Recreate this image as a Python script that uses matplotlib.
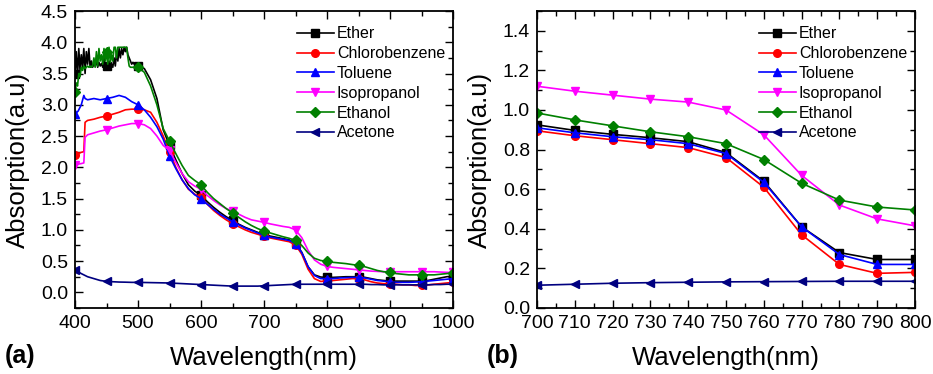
import numpy as np
import matplotlib
matplotlib.use("Agg")
import matplotlib.pyplot as plt
from matplotlib.ticker import MultipleLocator

plt.rcParams['font.family'] = ['Liberation Sans', 'DejaVu Sans']

# ---------------- data : panel (a) ----------------
series_names = ["Ether", "Chlorobenzene", "Toluene", "Isopropanol", "Ethanol", "Acetone"]
series_colors = ["#000000", "#ff0000", "#0000ff", "#ff00ff", "#008000", "#000080"]
series_markers = ["s", "o", "^", "v", "D", "<"]

wl_a_noisy_head = list(range(400, 501, 2))
wl_a_smooth_head = [400, 405, 410, 414, 416, 420, 430, 440, 450, 460, 470, 480, 490]
wl_a_tail = list(range(500, 1001, 10))

ether_head = [3.5, 3.85, 3.45, 3.9, 3.55, 3.8, 3.6, 3.9, 3.5, 3.85, 3.65, 3.9, 3.6, 3.7, 3.6,
              3.65, 3.62, 3.7, 3.6, 3.68, 3.62, 3.66, 3.6, 3.75, 3.6, 3.62, 3.58, 3.7, 3.62,
              3.65, 3.6, 3.75, 3.62, 3.85, 3.7, 3.9, 3.75, 3.9, 3.8, 3.92, 3.85, 3.92, 3.8,
              3.75, 3.7, 3.65, 3.68, 3.65, 3.64, 3.62, 3.62]
ethanol_head = [3.2, 3.35, 3.3, 3.5, 3.45, 3.6, 3.55, 3.62, 3.58, 3.6, 3.62, 3.6, 3.62, 3.6,
                3.62, 3.75, 3.6, 3.85, 3.62, 3.9, 3.7, 3.8, 3.65, 3.9, 3.7, 3.85, 3.65, 3.92,
                3.68, 3.8, 3.7, 3.92, 3.92, 3.75, 3.92, 3.92, 3.92, 3.92, 3.92, 3.92, 3.92,
                3.92, 3.75, 3.62, 3.6, 3.6, 3.6, 3.6, 3.6, 3.6, 3.6]
toluene_head = [2.85, 2.9, 3.0, 3.15, 3.1, 3.08, 3.1, 3.08, 3.1, 3.12, 3.15, 3.12, 3.05]
chloro_head = [2.2, 2.22, 2.24, 2.25, 2.72, 2.75, 2.77, 2.8, 2.82, 2.85, 2.88, 2.92, 2.93]
isoprop_head = [2.03, 2.05, 2.06, 2.07, 2.48, 2.52, 2.55, 2.58, 2.6, 2.63, 2.66, 2.68, 2.7]
acetone_head = [0.35, 0.33, 0.3, 0.28, 0.27, 0.25, 0.22, 0.19, 0.175, 0.17, 0.165, 0.163, 0.16]

ether_tail = [3.62, 3.58, 3.4, 3.1, 2.6, 2.35, 2.12, 1.9, 1.72, 1.62, 1.55, 1.45, 1.36, 1.28,
              1.21, 1.15, 1.09, 1.04, 1.0, 0.96, 0.92, 0.9, 0.88, 0.86, 0.84, 0.79, 0.64, 0.41,
              0.28, 0.245, 0.24, 0.24, 0.245, 0.25, 0.25, 0.25, 0.24, 0.22, 0.2, 0.19, 0.18,
              0.18, 0.18, 0.18, 0.18, 0.18, 0.19, 0.21, 0.23, 0.25, 0.26]
chloro_tail = [2.93, 2.92, 2.88, 2.72, 2.5, 2.25, 2.0, 1.8, 1.65, 1.57, 1.52, 1.41, 1.31, 1.23,
               1.16, 1.1, 1.05, 1.0, 0.96, 0.93, 0.9, 0.87, 0.85, 0.83, 0.81, 0.76, 0.61, 0.37,
               0.22, 0.175, 0.18, 0.19, 0.2, 0.21, 0.22, 0.22, 0.2, 0.17, 0.15, 0.14, 0.14,
               0.13, 0.12, 0.12, 0.11, 0.11, 0.12, 0.13, 0.14, 0.15, 0.16]
toluene_tail = [3.0, 2.92, 2.8, 2.65, 2.45, 2.18, 1.98, 1.8, 1.66, 1.56, 1.5, 1.41, 1.33, 1.25,
                1.19, 1.13, 1.08, 1.03, 0.99, 0.95, 0.91, 0.885, 0.865, 0.85, 0.83, 0.78, 0.635,
                0.41, 0.27, 0.22, 0.22, 0.22, 0.23, 0.235, 0.24, 0.24, 0.23, 0.21, 0.19, 0.18,
                0.17, 0.16, 0.16, 0.16, 0.165, 0.17, 0.18, 0.19, 0.2, 0.21, 0.22]
isoprop_tail = [2.7, 2.68, 2.62, 2.5, 2.35, 2.27, 2.08, 1.9, 1.77, 1.7, 1.65, 1.55, 1.47, 1.4,
                1.34, 1.3, 1.25, 1.2, 1.16, 1.14, 1.12, 1.095, 1.075, 1.055, 1.04, 1.0, 0.875,
                0.67, 0.52, 0.45, 0.415, 0.4, 0.39, 0.38, 0.37, 0.36, 0.35, 0.34, 0.335, 0.33,
                0.33, 0.33, 0.33, 0.33, 0.33, 0.33, 0.33, 0.33, 0.325, 0.32, 0.32]
ethanol_tail = [3.6, 3.52, 3.3, 3.0, 2.62, 2.42, 2.22, 2.03, 1.87, 1.79, 1.72, 1.6, 1.5, 1.42,
                1.34, 1.27, 1.2, 1.13, 1.07, 1.02, 0.98, 0.95, 0.92, 0.89, 0.865, 0.83, 0.75,
                0.63, 0.545, 0.51, 0.495, 0.48, 0.47, 0.46, 0.445, 0.43, 0.41, 0.38, 0.35, 0.33,
                0.32, 0.3, 0.29, 0.28, 0.28, 0.28, 0.28, 0.28, 0.29, 0.3, 0.31]
acetone_tail = [0.16, 0.158, 0.156, 0.154, 0.152, 0.15, 0.145, 0.14, 0.135, 0.13, 0.125, 0.12,
                0.115, 0.11, 0.105, 0.1, 0.1, 0.1, 0.1, 0.1, 0.105, 0.11, 0.115, 0.12, 0.125,
                0.13, 0.13, 0.13, 0.13, 0.13, 0.13, 0.13, 0.13, 0.13, 0.13, 0.13, 0.13, 0.125,
                0.125, 0.12, 0.12, 0.12, 0.12, 0.12, 0.12, 0.12, 0.12, 0.125, 0.125, 0.13, 0.13]

# ---------------- data : panel (b) ----------------
wl_b = [700, 710, 720, 730, 740, 750, 760, 770, 780, 790, 800]
ether_b = [0.925, 0.897, 0.877, 0.86, 0.84, 0.785, 0.64, 0.41, 0.28, 0.245, 0.245]
chloro_b = [0.895, 0.87, 0.85, 0.83, 0.81, 0.76, 0.61, 0.37, 0.22, 0.175, 0.18]
toluene_b = [0.91, 0.885, 0.865, 0.85, 0.83, 0.78, 0.635, 0.41, 0.27, 0.22, 0.22]
isoprop_b = [1.12, 1.095, 1.075, 1.055, 1.04, 1.0, 0.875, 0.67, 0.52, 0.45, 0.415]
ethanol_b = [0.985, 0.95, 0.92, 0.89, 0.865, 0.83, 0.75, 0.63, 0.545, 0.51, 0.495]
acetone_b = [0.115, 0.12, 0.125, 0.128, 0.13, 0.132, 0.133, 0.134, 0.135, 0.135, 0.135]

# ---------------- figure ----------------
fig = plt.figure(figsize=(9.33, 3.74), dpi=100)
axa = fig.add_axes([75/933, 1-308/374, 378/933, 297/374])
axb = fig.add_axes([537/933, 1-308/374, 378/933, 297/374])

def combine(xh, yh, xt, yt):
    x = list(xh) + [v for v in xt if v > xh[-1]]
    y = list(yh) + [yt[i] for i, v in enumerate(xt) if v > xh[-1]]
    return np.array(x), np.array(y)

data_a = [
    combine(wl_a_noisy_head, ether_head, wl_a_tail, ether_tail),
    combine(wl_a_smooth_head, chloro_head, wl_a_tail, chloro_tail),
    combine(wl_a_smooth_head, toluene_head, wl_a_tail, toluene_tail),
    combine(wl_a_smooth_head, isoprop_head, wl_a_tail, isoprop_tail),
    combine(wl_a_noisy_head, ethanol_head, wl_a_tail, ethanol_tail),
    combine(wl_a_smooth_head, acetone_head, wl_a_tail, acetone_tail),
]
data_b = [ether_b, chloro_b, toluene_b, isoprop_b, ethanol_b, acetone_b]

for (x, y), name, c, m in zip(data_a, series_names, series_colors, series_markers):
    idx = [i for i, v in enumerate(x) if v % 50 == 0]
    ms = 5.5 if m != "D" else 5
    axa.plot(x, y, color=c, lw=1.2, marker=m, ms=ms, markevery=idx, label=name)

for y, name, c, m in zip(data_b, series_names, series_colors, series_markers):
    ms = 5.5 if m != "D" else 5
    axb.plot(wl_b, y, color=c, lw=1.2, marker=m, ms=ms, label=name)

axa.set_xlim(400, 1000)
axa.set_ylim(-0.25, 4.5)
axa.xaxis.set_major_locator(MultipleLocator(100))
axa.xaxis.set_minor_locator(MultipleLocator(50))
axa.yaxis.set_major_locator(MultipleLocator(0.5))
axa.yaxis.set_minor_locator(MultipleLocator(0.25))

axb.set_xlim(700, 800)
axb.set_ylim(0, 1.5)
axb.xaxis.set_major_locator(MultipleLocator(10))
axb.xaxis.set_minor_locator(MultipleLocator(5))
axb.yaxis.set_major_locator(MultipleLocator(0.2))
axb.yaxis.set_minor_locator(MultipleLocator(0.1))

for ax in (axa, axb):
    ax.yaxis.set_major_formatter(matplotlib.ticker.FormatStrFormatter('%.1f'))
    ax.tick_params(which='both', direction='in', top=True, right=True, labelsize=14, width=1.0)
    ax.tick_params(which='major', length=6, pad=5)
    ax.tick_params(which='minor', length=3.5)
    for s in ax.spines.values():
        s.set_linewidth(1.3)
    ax.set_xlabel("Wavelength(nm)", fontsize=18.5, labelpad=10)
    ax.set_ylabel("Absorption(a.u)", fontsize=18.5, labelpad=8)
    ax.legend(loc='upper right', frameon=False, fontsize=11.5, handlelength=2.3,
              handletextpad=0.2, labelspacing=0.3, borderaxespad=0.1,
              bbox_to_anchor=(1.0, 0.975))

fig.text(5/933, 1-356/374, "(a)", fontsize=18, fontweight='bold', va='center', ha='left')
fig.text(487/933, 1-356/374, "(b)", fontsize=18, fontweight='bold', va='center', ha='left')

fig.savefig("out.png", dpi=100)
